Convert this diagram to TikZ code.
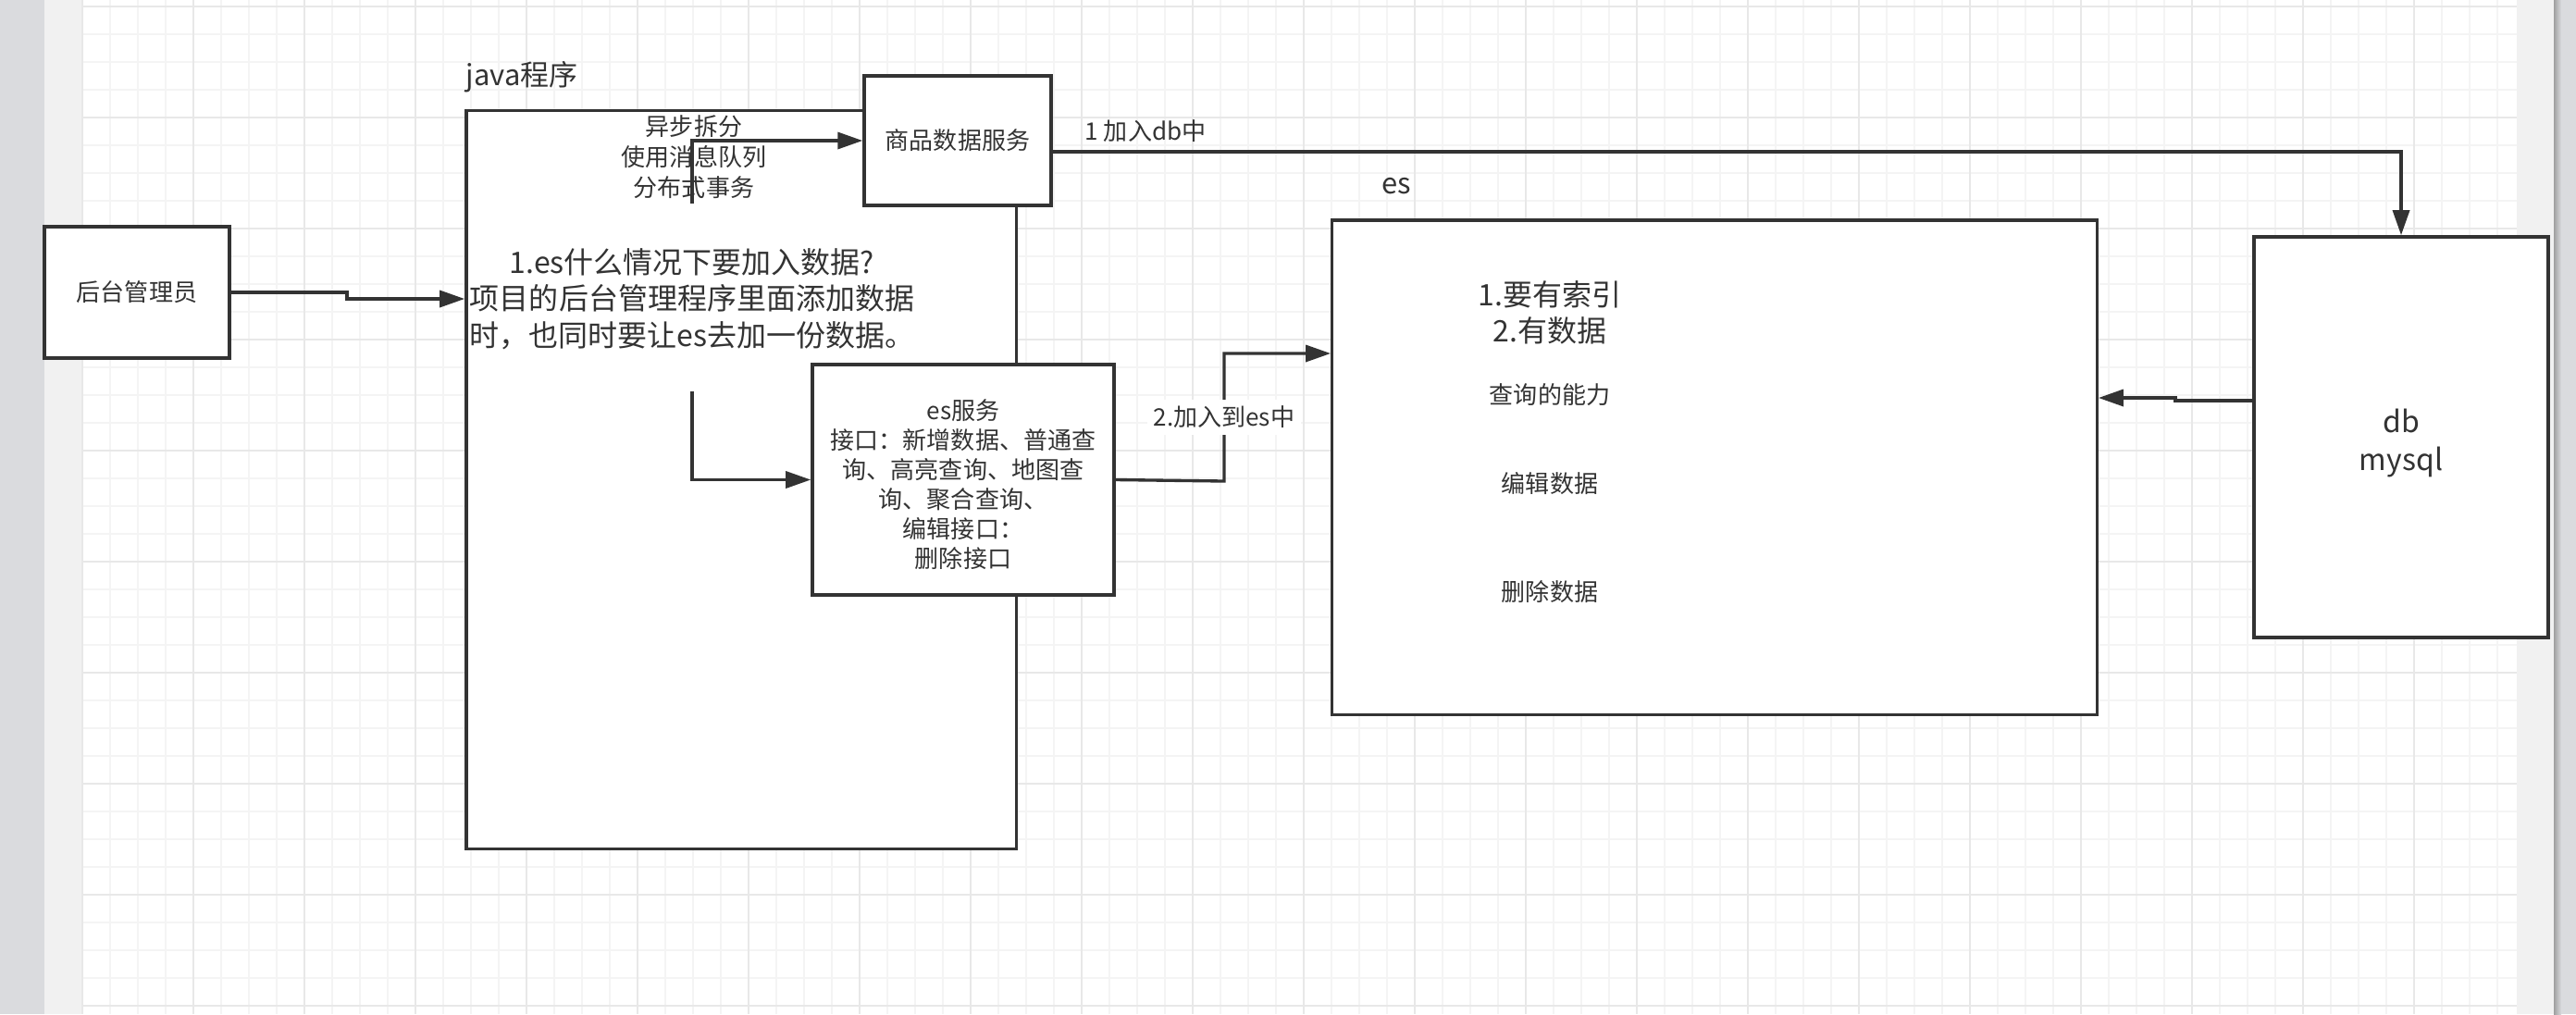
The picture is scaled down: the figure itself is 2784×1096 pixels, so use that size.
\documentclass[tikz,border=0pt]{standalone}
\usepackage{fontspec}
\setmainfont{Noto Sans CJK SC}
\usetikzlibrary{arrows.meta}
\definecolor{ink}{HTML}{333333}
\definecolor{gridminor}{HTML}{F4F4F4}
\definecolor{gridmajor}{HTML}{E8E8E8}
\definecolor{sidegray}{HTML}{DADBDE}
\definecolor{marginbg}{HTML}{F1F1F1}
\tikzset{
  box/.style={draw=ink, line width=0.95pt, fill=white, inner sep=0pt, align=center,
    text=ink, font=\fontsize{7.4pt}{9.1pt}\selectfont},
  link/.style={draw=ink, line width=0.95pt, -{Triangle[length=0.27cm, width=0.18cm]}},
  note/.style={text=ink, align=center, inner sep=0pt, font=\fontsize{7.4pt}{9.4pt}\selectfont},
  bignote/.style={note, font=\fontsize{9.1pt}{11.3pt}\selectfont},
}

\begin{document}
\begin{tikzpicture}[x=0.01cm, y=-0.01cm]
    \useasboundingbox (0,0) rectangle (2784,1096);
    % canvas
    \fill[sidegray] (0,0) rectangle (48,1096);
    \fill[marginbg] (48,0) rectangle (89,1096);
    \fill[white] (89,0) rectangle (2720,1096);
    \fill[marginbg] (2720,0) rectangle (2760,1096);
    \shade[left color=gray!75, right color=sidegray] (2760,0) rectangle (2768,1096);
    \fill[sidegray] (2768,0) rectangle (2784,1096);
    \foreach \i in {0,...,87}
      \draw[gridminor, line width=0.55pt] ({89+30*\i},0) -- ({89+30*\i},1096);
    \foreach \i in {0,...,36}
      \draw[gridminor, line width=0.55pt] (89,{6.7+30*\i}) -- (2720,{6.7+30*\i});
    \foreach \i in {0,...,21}
      \draw[gridmajor, line width=0.55pt] ({89+120*\i},0) -- ({89+120*\i},1096);
    \foreach \i in {0,...,9}
      \draw[gridmajor, line width=0.55pt] (89,{6.7+120*\i}) -- (2720,{6.7+120*\i});

    % boxes
    \node[box, minimum width=5.94cm, minimum height=7.97cm] (java) at (801,518.5) {};
    \node[note, anchor=west, font=\fontsize{8.8pt}{10pt}\selectfont] (javalbl) at (503,83) {java程序};
    \node[box, minimum width=2cm, minimum height=1.42cm] (admin) at (148,316) {后台管理员};
    \node[box, minimum width=2.02cm, minimum height=1.4cm] (goods) at (1035,152) {商品数据服务};
    \node[box, minimum width=3.26cm, minimum height=2.49cm] (essvc) at (1041,518.5) {};
    \node[note, font=\fontsize{7.4pt}{9.1pt}\selectfont] (svctxt) at (1041,524)
      {es服务\\接口：新增数据、普通查\\询、高亮查询、地图查\\询、聚合查询、\\编辑接口：\\删除接口};
    \node[box, minimum width=8.26cm, minimum height=5.34cm] (esbox) at (1853,505) {};
    \node[note, anchor=west, font=\fontsize{8.8pt}{10pt}\selectfont] (eslbl) at (1493,201) {es};
    \node[box, minimum width=3.18cm, minimum height=4.33cm] (db) at (2595,472.5) {};
    \node[bignote, font=\fontsize{9.1pt}{11.4pt}\selectfont] (dbtxt) at (2595,479) {db\\mysql};

    % texts
    \node[bignote] (why) at (748,323)
      {1.es什么情况下要加入数据?\\项目的后台管理程序里面添加数据\\时，也同时要让es去加一份数据。};
    \node[note] (mq) at (750,170) {异步拆分\\使用消息队列\\分布式事务};
    \node[bignote, font=\fontsize{9.1pt}{11.1pt}\selectfont] (need) at (1675,337.5) {1.要有索引\\2.有数据};
    \node[note] (query) at (1675,427) {查询的能力};
    \node[note] (edit) at (1675,523) {编辑数据};
    \node[note] (del) at (1675,640) {删除数据};
    \node[note] (todb) at (1238,142) {1 加入db中};

    % connectors
    \coordinate (mqstart) at (748,220);
    \coordinate (svcstart) at (748,423);
    \draw[link] (admin.east) -- (375,316) -- (375,323) -- (java.west |- 0,323);
    \draw[link] (mqstart) |- (goods.west);
    \draw[link] (goods.east |- 0,164) -- (db.north |- 0,164) -- (db.north);
    \draw[link] (svcstart) |- (essvc.west);
    \draw[link] (essvc.east) -- (1323,520)
      -- node[note, fill=white, inner sep=2pt] (toes) {2.加入到es中} (1323,382)
      -- (esbox.west |- 0,382);
    \draw[link] (db.west |- 0,433) -- (2351,433) -- (2351,430) -- (esbox.east |- 0,430);
\end{tikzpicture}
\end{document}
